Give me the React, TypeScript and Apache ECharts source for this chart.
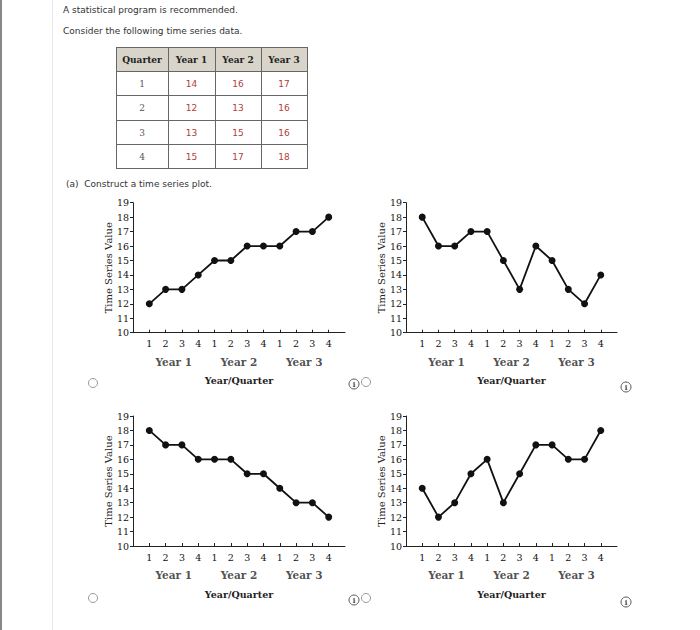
import React, { useEffect, useRef } from "react";
import * as echarts from "echarts";

// ---- data ----
const tableQuarters = ["1", "2", "3", "4"];
const tableYears = ["Year 1", "Year 2", "Year 3"];
const year1 = [14, 12, 13, 15];
const year2 = [16, 13, 15, 17];
const year3 = [17, 16, 16, 18];

const plotA = [12, 13, 13, 14, 15, 15, 16, 16, 16, 17, 17, 18];
const plotB = [18, 16, 16, 17, 17, 15, 13, 16, 15, 13, 12, 14];
const plotC = [18, 17, 17, 16, 16, 16, 15, 15, 14, 13, 13, 12];
const plotD = [14, 12, 13, 15, 16, 13, 15, 17, 17, 16, 16, 18];
const quarterTicks = ["1", "2", "3", "4", "1", "2", "3", "4", "1", "2", "3", "4"];
const yearLabels = ["Year 1", "Year 2", "Year 3"];
const yMin = 10;
const yMax = 19;

const SANS = "DejaVu Sans";
const SERIF = "DejaVu Serif";

export default function App() {
  const ref = useRef<HTMLDivElement>(null);

  useEffect(() => {
    if (!ref.current) return;
    const chart = echarts.init(ref.current, undefined, { renderer: "svg" });

    const plots = [plotA, plotB, plotC, plotD];
    const grids = [
      { left: 133, top: 202.7, width: 212, height: 130 },
      { left: 406, top: 202.7, width: 211, height: 130 },
      { left: 133, top: 416, width: 212, height: 130 },
      { left: 406, top: 416, width: 211, height: 130 },
    ];
    const tickPos = quarterTicks.map((_, i) => i + 1);

    const xAxes = grids.map((_, gi) => ({
      type: "value",
      gridIndex: gi,
      min: 0,
      max: quarterTicks.length + 1,
      interval: 1,
      splitLine: { show: false },
      axisLine: { show: true, lineStyle: { color: "#222", width: 1 } },
      axisTick: { show: true, inside: true, length: 3, customValues: tickPos, lineStyle: { color: "#222" } },
      axisLabel: {
        customValues: tickPos,
        formatter: (v: number) => quarterTicks[Math.round(v) - 1] ?? "",
        fontFamily: SERIF,
        fontSize: 9.5,
        color: "#111",
        margin: 6,
      },
      name: "Year/Quarter",
      nameLocation: "middle",
      nameGap: 43,
      nameTextStyle: { fontFamily: SERIF, fontSize: 9.5, fontWeight: "bold", color: "#222" },
    }));

    const yAxes = grids.map((_, gi) => ({
      type: "value",
      gridIndex: gi,
      min: yMin,
      max: yMax,
      interval: 1,
      splitLine: { show: false },
      axisLine: { show: true, lineStyle: { color: "#222", width: 1 } },
      axisTick: { show: true, length: 3, lineStyle: { color: "#222" } },
      axisLabel: { fontFamily: SERIF, fontSize: 9.5, color: "#111", margin: 4 },
      name: "Time Series Value",
      nameLocation: "middle",
      nameGap: 19,
      nameTextStyle: { fontFamily: SERIF, fontSize: 10, color: "#222" },
    }));

    const series: any[] = [];
    plots.forEach((p, gi) => {
      series.push({
        type: "line",
        xAxisIndex: gi,
        yAxisIndex: gi,
        data: p.map((v, i) => [i + 1, v]),
        symbol: "circle",
        symbolSize: 7,
        showSymbol: true,
        itemStyle: { color: "#111" },
        lineStyle: { color: "#111", width: 1.8 },
        silent: true,
      });
      series.push({
        type: "scatter",
        xAxisIndex: gi,
        yAxisIndex: gi,
        data: yearLabels.map((n, k) => ({ name: n, value: [4 * k + 2.5, yMin] })),
        symbolSize: 1,
        itemStyle: { color: "rgba(0,0,0,0)" },
        label: {
          show: true,
          formatter: "{b}",
          position: "bottom",
          distance: 23,
          fontFamily: SERIF,
          fontSize: 10.5,
          fontWeight: "bold",
          color: "#222",
        },
        labelLayout: { hideOverlap: false },
        clip: false,
        silent: true,
      });
    });

    // ---- table graphic ----
    const colX = [116, 168, 215, 261, 307];
    const rowY = [47, 71, 95, 120, 144, 168];
    const header = ["Quarter", ...tableYears];
    const cols = [year1, year2, year3];
    const g: any[] = [];
    g.push({ type: "line", shape: { x1: 1, y1: 0, x2: 1, y2: 630 }, style: { stroke: "#888", lineWidth: 2 } });
    g.push({ type: "line", shape: { x1: 52.5, y1: 0, x2: 52.5, y2: 630 }, style: { stroke: "#e8e8e8", lineWidth: 1 } });
    g.push({
      type: "text", x: 63, y: 10,
      style: { text: "A statistical program is recommended.", font: `9px '${SANS}'`, fill: "#333", verticalAlign: "middle" },
    });
    g.push({
      type: "text", x: 63, y: 31,
      style: { text: "Consider the following time series data.", font: `9px '${SANS}'`, fill: "#333", verticalAlign: "middle" },
    });
    g.push({
      type: "rect",
      shape: { x: colX[0], y: rowY[0], width: colX[4] - colX[0], height: rowY[1] - rowY[0] },
      style: { fill: "#d8d4ca" },
    });
    for (let r = 0; r < rowY.length; r++) {
      g.push({ type: "line", shape: { x1: colX[0], y1: rowY[r] + 0.5, x2: colX[4], y2: rowY[r] + 0.5 }, style: { stroke: "#666", lineWidth: 1 } });
    }
    for (let c = 0; c < colX.length; c++) {
      g.push({ type: "line", shape: { x1: colX[c] + 0.5, y1: rowY[0], x2: colX[c] + 0.5, y2: rowY[5] + 1 }, style: { stroke: "#666", lineWidth: 1 } });
    }
    header.forEach((h, c) => {
      g.push({
        type: "text", x: (colX[c] + colX[c + 1]) / 2, y: (rowY[0] + rowY[1]) / 2 + 0.5,
        style: { text: h, font: `bold 9px '${SERIF}'`, fill: "#222", align: "center", verticalAlign: "middle" },
      });
    });
    tableQuarters.forEach((q, r) => {
      const cy = (rowY[r + 1] + rowY[r + 2]) / 2 + 0.5;
      g.push({
        type: "text", x: (colX[0] + colX[1]) / 2, y: cy,
        style: { text: q, font: `9px '${SERIF}'`, fill: "#555", align: "center", verticalAlign: "middle" },
      });
      cols.forEach((col, c) => {
        g.push({
          type: "text", x: (colX[c + 1] + colX[c + 2]) / 2, y: cy,
          style: { text: String(col[r]), font: `9px '${SANS}'`, fill: "#b0403c", align: "center", verticalAlign: "middle" },
        });
      });
    });
    g.push({
      type: "text", x: 66, y: 184,
      style: { text: "(a)  Construct a time series plot.", font: `9px '${SANS}'`, fill: "#333", verticalAlign: "middle" },
    });
    // radio buttons
    [[93, 383], [366, 382], [93, 598], [366, 598]].forEach(([x, y]) => {
      g.push({ type: "circle", shape: { cx: x, cy: y, r: 4.5 }, style: { fill: "#fff", stroke: "#999", lineWidth: 1 } });
    });
    // info icons
    [[354, 384], [626, 387], [354, 600], [626, 602]].forEach(([x, y]) => {
      g.push({ type: "circle", shape: { cx: x, cy: y, r: 5 }, style: { fill: "#fff", stroke: "#555", lineWidth: 1 } });
      g.push({
        type: "text", x, y: y + 0.5,
        style: { text: "i", font: `bold 7px '${SERIF}'`, fill: "#444", align: "center", verticalAlign: "middle" },
      });
    });

    chart.setOption({
      animation: false,
      backgroundColor: "#fff",
      grid: grids,
      xAxis: xAxes,
      yAxis: yAxes,
      series,
      graphic: g,
    });

    return () => chart.dispose();
  }, []);

  return <div ref={ref} style={{ position: "absolute", left: 0, top: 0, width: 700, height: 630 }} />;
}
